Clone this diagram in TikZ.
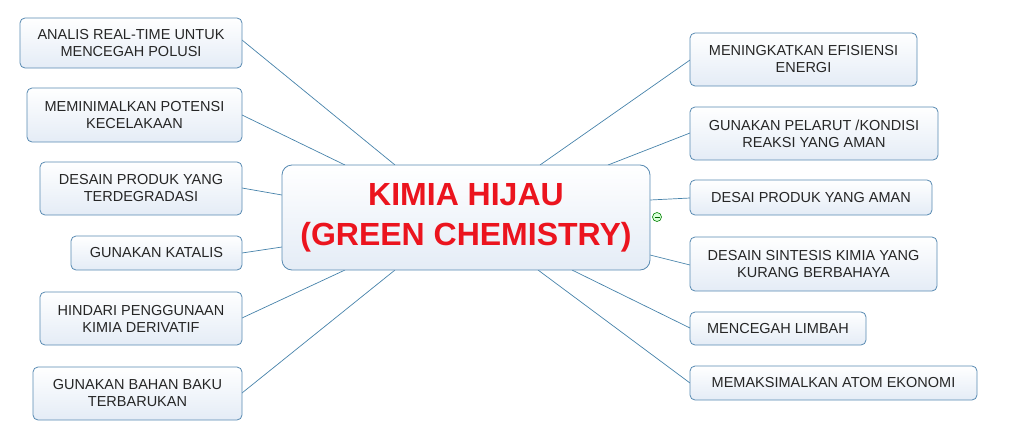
\documentclass[tikz,border=0pt]{standalone}
\usepackage{fontspec}
\setmainfont{Liberation Sans}
\begin{document}
\begin{tikzpicture}[x=1pt,y=-1pt,
  leaf/.style={draw=boxline,rounded corners=5pt,top color=white,bottom color=boxfill,line width=0.8pt},
  lbl/.style={font=\fontsize{14.5}{17}\selectfont,text=black!85,align=center},
  link/.style={draw=linkc,line width=0.7pt}]
\definecolor{boxline}{RGB}{88,138,178}
\definecolor{boxfill}{RGB}{228,236,246}
\definecolor{linkc}{RGB}{70,130,170}
\useasboundingbox (0,0) rectangle (1023,447);
% links
\coordinate (c1) at (395,165); \coordinate (c2) at (345,165);
\coordinate (c3) at (282,195); \coordinate (c4) at (282,247);
\coordinate (c5) at (345,270); \coordinate (c6) at (395,270);
\coordinate (d1) at (540,165); \coordinate (d2) at (608,165);
\coordinate (d3) at (650,200); \coordinate (d4) at (650,255);
\coordinate (d5) at (572,270); \coordinate (d6) at (538,270);
\coordinate (l1) at (242,40); \coordinate (l2) at (242,115);
\coordinate (l3) at (242,188); \coordinate (l4) at (242,253);
\coordinate (l5) at (242,318); \coordinate (l6) at (242,393);
\coordinate (r1) at (690,60); \coordinate (r2) at (690,133);
\coordinate (r3) at (690,198); \coordinate (r4) at (690,265);
\coordinate (r5) at (690,328); \coordinate (r6) at (690,383);
\foreach \a/\b in {l1/c1,l2/c2,l3/c3,l4/c4,l5/c5,l6/c6,r1/d1,r2/d2,r3/d3,r4/d4,r5/d5,r6/d6} \draw[link] (\a)--(\b);
% center
\draw[leaf,rounded corners=10pt] (282,165) rectangle (650,270);
\node[font=\bfseries\fontsize{32}{40}\selectfont,text={rgb,255:red,235;green,20;blue,30},align=center] (ctr) at (466,218) {KIMIA HIJAU\\(GREEN CHEMISTRY)};
% left boxes
\draw[leaf] (20,18) rectangle (242,68); \node[lbl] (n1) at (131,43) {ANALIS REAL-TIME UNTUK\\MENCEGAH POLUSI};
\draw[leaf] (27,88) rectangle (242,142); \node[lbl] (n2) at (134.5,115) {MEMINIMALKAN POTENSI\\KECELAKAAN};
\draw[leaf] (40,162) rectangle (242,215); \node[lbl] (n3) at (141,188.5) {DESAIN PRODUK YANG\\TERDEGRADASI};
\draw[leaf] (71,236) rectangle (242,270); \node[lbl] (n4) at (156.5,253) {GUNAKAN KATALIS};
\draw[leaf] (40,292) rectangle (242,345); \node[lbl] (n5) at (141,318.5) {HINDARI PENGGUNAAN\\KIMIA DERIVATIF};
\draw[leaf] (33,367) rectangle (242,420); \node[lbl] (n6) at (137.5,393.5) {GUNAKAN BAHAN BAKU\\TERBARUKAN};
% right boxes
\draw[leaf] (690,33) rectangle (917,86); \node[lbl] (m1) at (803.5,59.5) {MENINGKATKAN EFISIENSI\\ENERGI};
\draw[leaf] (690,107) rectangle (938,160); \node[lbl] (m2) at (814,133.5) {GUNAKAN PELARUT /KONDISI\\REAKSI YANG AMAN};
\draw[leaf] (690,180) rectangle (932,215); \node[lbl] (m3) at (811,197.5) {DESAI PRODUK YANG AMAN};
\draw[leaf] (690,237) rectangle (937,291); \node[lbl] (m4) at (813.5,264) {DESAIN SINTESIS KIMIA YANG\\KURANG BERBAHAYA};
\draw[leaf] (690,312) rectangle (866,345); \node[lbl] (m5) at (778,328.5) {MENCEGAH LIMBAH};
\draw[leaf] (690,366) rectangle (977,400); \node[lbl] (m6) at (833.5,383) {MEMAKSIMALKAN ATOM EKONOMI};
% collapse marker
\draw[green!50!black,fill=green!15,line width=0.6pt] (657,217) circle (4.5);
\draw[green!40!black,line width=0.8pt] (654.5,217)--(659.5,217);
\end{tikzpicture}
\end{document}
